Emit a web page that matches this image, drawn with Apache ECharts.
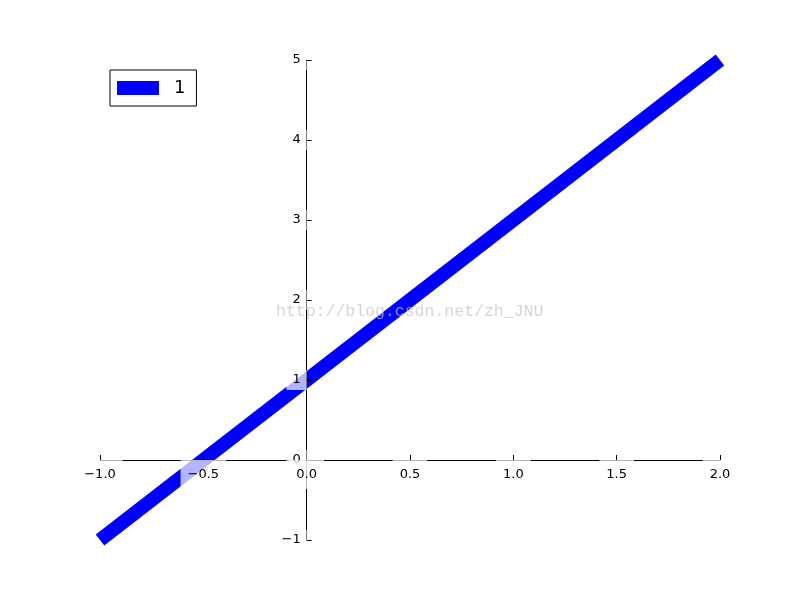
<!DOCTYPE html>
<html lang="en">
<head>
  <meta charset="UTF-8">
  <title>y = 2x + 1</title>
  <script src="https://cdn.jsdelivr.net/npm/echarts@6/dist/echarts.min.js"></script>
  <style>
    html, body { margin: 0; padding: 0; background: #fff; }
    #main { width: 800px; height: 600px; }
  </style>
</head>
<body>
  <div id="main"></div>
<script>
  // values
  const xValues = [-1, -0.5, 0, 0.5, 1, 1.5, 2];
  const yValues = [-1, 0, 1, 2, 3, 4, 5];
  const xTicks = [-1, -0.5, 0, 0.5, 1, 1.5, 2];
  const yTicks = [-1, 0, 1, 2, 3, 4, 5];
  const seriesName = '1';
  const watermark = 'http://blog.csdn.net/zh_JNU';

  const minus = s => s.replace('-', '\u2212');
  const boxBg = 'rgba(255,255,255,0.7)';

  // grid box, spines are shifted to the zero lines (matplotlib style)
  const grid = { left: 100, right: 80, top: 60, bottom: 60 };
  const gridW = 800 - grid.left - grid.right;
  const gridH = 600 - grid.top - grid.bottom;
  const xMin = xTicks[0], xMax = xTicks[xTicks.length - 1];
  const yMin = yTicks[0], yMax = yTicks[yTicks.length - 1];
  const xAxisShift = -gridH * (0 - yMin) / (yMax - yMin);
  const yAxisShift = -gridW * (0 - xMin) / (xMax - xMin);

  const chart = echarts.init(document.getElementById('main'));
  chart.setOption({
    animation: false,
    grid: grid,
    legend: {
      left: 110,
      top: 70,
      padding: [9, 11, 9, 7],
      borderColor: '#000',
      borderWidth: 1,
      borderRadius: 0,
      icon: 'rect',
      itemWidth: 42,
      itemHeight: 14,
      textStyle: { fontFamily: 'DejaVu Sans', fontSize: 18, color: '#000', padding: [0, 0, 0, 10] },
      data: [seriesName]
    },
    xAxis: {
      type: 'value',
      position: 'bottom',
      offset: xAxisShift,
      z: 5,
      min: xMin,
      max: xMax,
      interval: xTicks[1] - xTicks[0],
      axisLine: { onZero: false, lineStyle: { color: '#000', width: 1 } },
      axisTick: { inside: true, length: 5, lineStyle: { color: '#000' } },
      splitLine: { show: false },
      axisLabel: {
        margin: 0,
        fontFamily: 'DejaVu Sans',
        fontSize: 13,
        color: '#000',
        backgroundColor: boxBg,
        padding: [8, 7, 8, 7],
        showMinLabel: true,
        showMaxLabel: true,
        formatter: v => minus(v.toFixed(1))
      }
    },
    yAxis: {
      type: 'value',
      position: 'left',
      offset: yAxisShift,
      z: 5,
      min: yMin,
      max: yMax,
      interval: yTicks[1] - yTicks[0],
      axisLine: { onZero: false, lineStyle: { color: '#000', width: 1 } },
      axisTick: { inside: true, length: 5, lineStyle: { color: '#000' } },
      splitLine: { show: false },
      axisLabel: {
        margin: 0,
        fontFamily: 'DejaVu Sans',
        fontSize: 13,
        color: '#000',
        backgroundColor: boxBg,
        padding: [3, 6, 4, 6],
        showMinLabel: true,
        showMaxLabel: true,
        formatter: v => minus(String(v))
      }
    },
    graphic: [{
      type: 'text',
      z: 100,
      left: 276,
      top: 303,
      style: {
        text: watermark,
        fontFamily: 'Liberation Mono',
        fontSize: 16.5,
        fill: 'rgba(195,195,195,0.7)'
      }
    }],
    series: [{
      name: seriesName,
      type: 'line',
      z: 2,
      symbol: 'none',
      color: '#0000ff',
      lineStyle: { width: 14, color: '#0000ff', cap: 'butt' },
      data: xValues.map((x, i) => [x, yValues[i]])
    }]
  });
</script>
</body>
</html>
